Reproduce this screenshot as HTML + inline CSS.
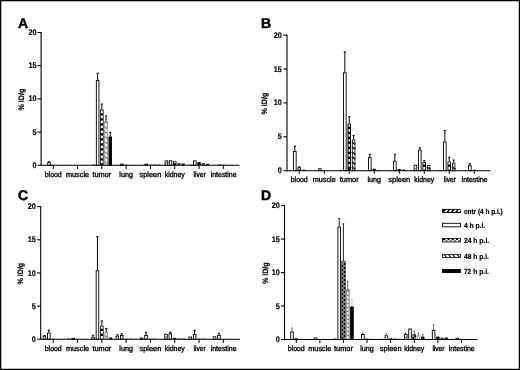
<!DOCTYPE html>
<html lang="en"><head><meta charset="utf-8"><title>Figure</title>
<style>html,body{margin:0;padding:0;background:#fff;}body{width:520px;height:370px;overflow:hidden;}svg{display:block;}</style>
</head><body>
<svg width="520" height="370" viewBox="0 0 520 370" text-rendering="geometricPrecision">
<defs>
<pattern id="p0" width="4.5" height="4.5" patternUnits="userSpaceOnUse"><rect width="4.5" height="4.5" fill="#111"/><path d="M-1 3.2 L3.2 -1 L5.5 -1 L-1 5.5Z M3.2 5.5 L5.5 3.2 L5.5 5.5Z" fill="#fff"/></pattern>
<pattern id="p2" width="4" height="4" patternUnits="userSpaceOnUse"><rect width="4" height="4" fill="#fff"/><rect x="0" y="0" width="2" height="2" fill="#000"/><rect x="2" y="2" width="2" height="2" fill="#000"/></pattern>
<pattern id="p3" width="5" height="5" patternUnits="userSpaceOnUse"><rect width="5" height="5" fill="#fff"/><path d="M-1 -1 L1 -1 L6 4 L6 6 Z M-1 4 L1 6 L-1 6Z" fill="#777"/></pattern>
</defs>
<rect x="0" y="0" width="520" height="370" fill="#fff"/>
<path d="M0 0H520V370H0Z M1.3 1.3V368.7H518.8V1.3Z" fill="#000" fill-rule="evenodd"/>
<g id="chartA">
<text x="18" y="28" font-family='"Liberation Sans", Arial, Helvetica, sans-serif' font-size="14" font-weight="bold" fill="#000" stroke="#000" stroke-width="0.5">A</text>
<rect x="43.10" y="164.97" width="3.50" height="0.33" fill="#222"/>
<path d="M49.05 161.98V161.65M47.95 161.85H50.15" stroke="#000" stroke-width="1.0" fill="none"/>
<rect x="47.75" y="162.43" width="2.60" height="2.87" fill="#fff" stroke="#000" stroke-width="0.9"/>
<rect x="51.50" y="164.77" width="3.50" height="0.53" fill="#222"/>
<rect x="55.70" y="164.97" width="3.50" height="0.33" fill="#222"/>
<rect x="59.90" y="165.10" width="3.50" height="0.20" fill="#222"/>
<rect x="67.40" y="165.10" width="3.50" height="0.20" fill="#222"/>
<rect x="71.60" y="164.97" width="3.50" height="0.33" fill="#222"/>
<rect x="75.80" y="164.97" width="3.50" height="0.33" fill="#222"/>
<rect x="80.00" y="165.10" width="3.50" height="0.20" fill="#222"/>
<rect x="84.20" y="165.10" width="3.50" height="0.20" fill="#222"/>
<rect x="91.70" y="164.64" width="3.50" height="0.66" fill="#222"/>
<path d="M97.65 80.04V73.00M96.55 73.20H98.75" stroke="#000" stroke-width="1.0" fill="none"/>
<rect x="96.35" y="80.49" width="2.60" height="84.81" fill="#fff" stroke="#000" stroke-width="0.9"/>
<path d="M101.85 109.52V103.88M100.75 104.08H102.95" stroke="#000" stroke-width="1.0" fill="none"/>
<rect x="100.10" y="109.52" width="3.50" height="55.78" fill="#000"/>
<path d="M100.85 160.60h2.0v2.60h-2.0ZM100.85 155.60h2.0v2.60h-2.0ZM100.85 150.60h2.0v2.60h-2.0ZM100.85 145.60h2.0v2.60h-2.0ZM100.85 140.60h2.0v2.60h-2.0ZM100.85 135.60h2.0v2.60h-2.0ZM100.85 130.60h2.0v2.60h-2.0ZM100.85 125.60h2.0v2.60h-2.0ZM100.85 120.60h2.0v2.60h-2.0ZM100.85 115.60h2.0v2.60h-2.0ZM100.85 110.60h2.0v2.60h-2.0Z" fill="#fff"/>
<path d="M106.05 120.81V115.77M104.95 115.97H107.15" stroke="#000" stroke-width="1.0" fill="none"/>
<rect x="104.75" y="121.26" width="2.60" height="44.04" fill="#fff" stroke="#8a8a8a" stroke-width="0.9"/>
<path d="M104.30 161.60L107.80 163.80M104.30 156.60L107.80 158.80M104.30 151.60L107.80 153.80M104.30 146.60L107.80 148.80M104.30 141.60L107.80 143.80M104.30 136.60L107.80 138.80M104.30 131.60L107.80 133.80M104.30 126.60L107.80 128.80M104.30 121.60L107.80 123.80" stroke="#8a8a8a" stroke-width="1.3" fill="none"/>
<path d="M110.25 136.48V132.10M109.15 132.30H111.35" stroke="#000" stroke-width="1.0" fill="none"/>
<rect x="108.95" y="136.93" width="2.60" height="28.37" fill="#000" stroke="#000" stroke-width="0.9"/>
<rect x="116.00" y="164.97" width="3.50" height="0.33" fill="#222"/>
<rect x="120.65" y="164.09" width="2.60" height="1.21" fill="#fff" stroke="#000" stroke-width="0.9"/>
<rect x="124.40" y="164.77" width="3.50" height="0.53" fill="#222"/>
<rect x="128.60" y="164.97" width="3.50" height="0.33" fill="#222"/>
<rect x="132.80" y="164.97" width="3.50" height="0.33" fill="#222"/>
<rect x="140.30" y="164.97" width="3.50" height="0.33" fill="#222"/>
<rect x="144.95" y="164.09" width="2.60" height="1.21" fill="#fff" stroke="#000" stroke-width="0.9"/>
<rect x="148.70" y="164.64" width="3.50" height="0.66" fill="#222"/>
<rect x="152.90" y="164.64" width="3.50" height="0.66" fill="#222"/>
<rect x="157.10" y="164.64" width="3.50" height="0.66" fill="#222"/>
<rect x="165.05" y="160.84" width="2.60" height="4.46" fill="#fff" stroke="#111" stroke-width="0.9"/>
<path d="M164.60 164.10L168.10 161.90" stroke="#333" stroke-width="0.8" fill="none"/>
<rect x="169.25" y="160.77" width="2.60" height="4.53" fill="#fff" stroke="#000" stroke-width="0.9"/>
<rect x="173.00" y="161.32" width="3.50" height="3.98" fill="#000"/>
<path d="M173.75 162.12h2.0v1.08h-2.0Z" fill="#fff"/>
<rect x="177.20" y="162.98" width="3.50" height="2.32" rx="0.8" fill="#444"/>
<rect x="181.40" y="163.51" width="3.50" height="1.79" rx="0.8" fill="#111"/>
<rect x="188.90" y="164.64" width="3.50" height="0.66" fill="#222"/>
<rect x="193.55" y="160.84" width="2.60" height="4.46" fill="#fff" stroke="#000" stroke-width="0.9"/>
<rect x="197.30" y="162.11" width="3.50" height="3.19" rx="0.8" fill="#111"/>
<rect x="201.50" y="162.98" width="3.50" height="2.32" rx="0.8" fill="#444"/>
<rect x="205.70" y="163.84" width="3.50" height="1.46" rx="0.8" fill="#111"/>
<rect x="213.20" y="164.97" width="3.50" height="0.33" fill="#222"/>
<rect x="217.40" y="164.50" width="3.50" height="0.80" fill="#222"/>
<rect x="221.60" y="164.64" width="3.50" height="0.66" fill="#222"/>
<rect x="225.80" y="164.97" width="3.50" height="0.33" fill="#222"/>
<rect x="230.00" y="164.97" width="3.50" height="0.33" fill="#222"/>
<path d="M41.10 31.90V165.85" stroke="#000" stroke-width="1.1" fill="none"/>
<path d="M37.50 165.30H239.30" stroke="#000" stroke-width="1.1" fill="none"/>
<path d="M37.50 132.10H41.10" stroke="#000" stroke-width="1.1" fill="none"/>
<path d="M37.50 98.90H41.10" stroke="#000" stroke-width="1.1" fill="none"/>
<path d="M37.50 65.70H41.10" stroke="#000" stroke-width="1.1" fill="none"/>
<path d="M37.50 32.50H41.10" stroke="#000" stroke-width="1.1" fill="none"/>
<text transform="translate(36.60 167.85) scale(0.9 1)" text-anchor="end" font-family='"Liberation Sans", Arial, Helvetica, sans-serif' font-size="8.1" font-weight="bold" fill="#000" stroke="#000" stroke-width="0.18">0</text>
<text transform="translate(36.60 134.65) scale(0.9 1)" text-anchor="end" font-family='"Liberation Sans", Arial, Helvetica, sans-serif' font-size="8.1" font-weight="bold" fill="#000" stroke="#000" stroke-width="0.18">5</text>
<text transform="translate(36.60 101.45) scale(0.9 1)" text-anchor="end" font-family='"Liberation Sans", Arial, Helvetica, sans-serif' font-size="8.1" font-weight="bold" fill="#000" stroke="#000" stroke-width="0.18">10</text>
<text transform="translate(36.60 68.25) scale(0.9 1)" text-anchor="end" font-family='"Liberation Sans", Arial, Helvetica, sans-serif' font-size="8.1" font-weight="bold" fill="#000" stroke="#000" stroke-width="0.18">15</text>
<text transform="translate(36.60 35.05) scale(0.9 1)" text-anchor="end" font-family='"Liberation Sans", Arial, Helvetica, sans-serif' font-size="8.1" font-weight="bold" fill="#000" stroke="#000" stroke-width="0.18">20</text>
<path d="M53.25 165.30V169.05" stroke="#000" stroke-width="1" fill="none"/>
<text x="53.25" y="176.80" text-anchor="middle" textLength="17.01" lengthAdjust="spacingAndGlyphs" font-family='"Liberation Sans", Arial, Helvetica, sans-serif' font-size="7.6" fill="#000" stroke="#000" stroke-width="0.35">blood</text>
<path d="M77.55 165.30V169.05" stroke="#000" stroke-width="1" fill="none"/>
<text x="77.55" y="176.80" text-anchor="middle" textLength="23.08" lengthAdjust="spacingAndGlyphs" font-family='"Liberation Sans", Arial, Helvetica, sans-serif' font-size="7.6" fill="#000" stroke="#000" stroke-width="0.35">muscle</text>
<path d="M101.85 165.30V169.05" stroke="#000" stroke-width="1" fill="none"/>
<text x="101.85" y="176.80" text-anchor="middle" textLength="18.82" lengthAdjust="spacingAndGlyphs" font-family='"Liberation Sans", Arial, Helvetica, sans-serif' font-size="7.6" fill="#000" stroke="#000" stroke-width="0.35">tumor</text>
<path d="M126.15 165.30V169.05" stroke="#000" stroke-width="1" fill="none"/>
<text x="126.15" y="176.80" text-anchor="middle" textLength="13.57" lengthAdjust="spacingAndGlyphs" font-family='"Liberation Sans", Arial, Helvetica, sans-serif' font-size="7.6" fill="#000" stroke="#000" stroke-width="0.35">lung</text>
<path d="M150.45 165.30V169.05" stroke="#000" stroke-width="1" fill="none"/>
<text x="150.45" y="176.80" text-anchor="middle" textLength="21.80" lengthAdjust="spacingAndGlyphs" font-family='"Liberation Sans", Arial, Helvetica, sans-serif' font-size="7.6" fill="#000" stroke="#000" stroke-width="0.35">spleen</text>
<path d="M174.75 165.30V169.05" stroke="#000" stroke-width="1" fill="none"/>
<text x="174.75" y="176.80" text-anchor="middle" textLength="20.10" lengthAdjust="spacingAndGlyphs" font-family='"Liberation Sans", Arial, Helvetica, sans-serif' font-size="7.6" fill="#000" stroke="#000" stroke-width="0.35">kidney</text>
<path d="M199.05 165.30V169.05" stroke="#000" stroke-width="1" fill="none"/>
<text x="199.65" y="176.80" text-anchor="middle" textLength="12.07" lengthAdjust="spacingAndGlyphs" font-family='"Liberation Sans", Arial, Helvetica, sans-serif' font-size="7.6" fill="#000" stroke="#000" stroke-width="0.35">liver</text>
<path d="M223.35 165.30V169.05" stroke="#000" stroke-width="1" fill="none"/>
<text x="223.65" y="176.80" text-anchor="middle" textLength="25.90" lengthAdjust="spacingAndGlyphs" font-family='"Liberation Sans", Arial, Helvetica, sans-serif' font-size="7.6" fill="#000" stroke="#000" stroke-width="0.35">intestine</text>
<text transform="translate(23.80 99.60) rotate(-90) scale(0.9 1)" text-anchor="middle" font-family='"Liberation Sans", Arial, Helvetica, sans-serif' font-size="7.9" font-weight="bold" fill="#000" stroke="#000" stroke-width="0.2">% ID/g</text>
</g>
<g id="chartB">
<text x="261" y="28" font-family='"Liberation Sans", Arial, Helvetica, sans-serif' font-size="14" font-weight="bold" fill="#000" stroke="#000" stroke-width="0.5">B</text>
<rect x="288.70" y="170.50" width="3.50" height="0.20" fill="#222"/>
<path d="M294.85 151.04V146.02M293.75 146.22H295.95" stroke="#000" stroke-width="1.0" fill="none"/>
<rect x="293.55" y="151.49" width="2.60" height="19.21" fill="#fff" stroke="#000" stroke-width="0.9"/>
<path d="M299.25 167.31V166.63M298.15 166.83H300.35" stroke="#000" stroke-width="1.0" fill="none"/>
<rect x="297.50" y="167.31" width="3.50" height="3.39" fill="#000"/>
<path d="M298.30 168.11h1.9v1.29h-1.9Z" fill="#fff"/>
<rect x="301.90" y="169.48" width="3.50" height="1.22" rx="0.8" fill="#444"/>
<rect x="318.55" y="168.78" width="2.60" height="1.92" fill="#fff" stroke="#000" stroke-width="0.9"/>
<rect x="322.50" y="170.36" width="3.50" height="0.34" fill="#222"/>
<rect x="326.90" y="170.50" width="3.50" height="0.20" fill="#222"/>
<rect x="338.70" y="170.02" width="3.50" height="0.68" fill="#222"/>
<path d="M344.85 72.39V51.71M343.75 51.91H345.95" stroke="#000" stroke-width="1.0" fill="none"/>
<rect x="343.55" y="72.84" width="2.60" height="97.86" fill="#fff" stroke="#000" stroke-width="0.9"/>
<path d="M349.25 123.58V116.46M348.15 116.66H350.35" stroke="#000" stroke-width="1.0" fill="none"/>
<rect x="347.50" y="123.58" width="3.50" height="47.12" fill="#000"/>
<path d="M348.55 164.10h1.4v2.60h-1.4ZM348.55 159.10h1.4v2.60h-1.4ZM348.55 154.10h1.4v2.60h-1.4ZM348.55 149.10h1.4v2.60h-1.4ZM348.55 144.10h1.4v2.60h-1.4ZM348.55 139.10h1.4v2.60h-1.4ZM348.55 134.10h1.4v2.60h-1.4ZM348.55 129.10h1.4v2.60h-1.4ZM348.55 124.38h1.4v2.32h-1.4Z" fill="#fff"/>
<path d="M353.65 139.51V135.44M352.55 135.64H354.75" stroke="#000" stroke-width="1.0" fill="none"/>
<rect x="352.35" y="139.96" width="2.60" height="30.74" fill="#fff" stroke="#222" stroke-width="0.9"/>
<path d="M351.90 167.00L355.40 169.20M351.90 162.00L355.40 164.20M351.90 157.00L355.40 159.20M351.90 152.00L355.40 154.20M351.90 147.00L355.40 149.20M351.90 142.00L355.40 144.20" stroke="#222" stroke-width="1.6" fill="none"/>
<rect x="363.70" y="170.36" width="3.50" height="0.34" fill="#222"/>
<path d="M369.85 157.14V154.02M368.75 154.22H370.95" stroke="#000" stroke-width="1.0" fill="none"/>
<rect x="368.55" y="157.59" width="2.60" height="13.11" fill="#fff" stroke="#000" stroke-width="0.9"/>
<rect x="372.50" y="168.67" width="3.50" height="2.03" rx="0.8" fill="#111"/>
<rect x="376.90" y="170.02" width="3.50" height="0.68" fill="#222"/>
<rect x="388.70" y="170.36" width="3.50" height="0.34" fill="#222"/>
<path d="M394.85 160.73V154.02M393.75 154.22H395.95" stroke="#000" stroke-width="1.0" fill="none"/>
<rect x="393.55" y="161.18" width="2.60" height="9.52" fill="#fff" stroke="#000" stroke-width="0.9"/>
<rect x="397.50" y="169.00" width="3.50" height="1.70" rx="0.8" fill="#111"/>
<rect x="401.90" y="169.34" width="3.50" height="1.36" rx="0.8" fill="#444"/>
<rect x="414.15" y="165.18" width="2.60" height="5.52" fill="#fff" stroke="#111" stroke-width="0.9"/>
<path d="M413.70 169.50L417.20 167.30" stroke="#333" stroke-width="0.8" fill="none"/>
<path d="M419.85 149.68V147.65M418.75 147.85H420.95" stroke="#000" stroke-width="1.0" fill="none"/>
<rect x="418.55" y="150.13" width="2.60" height="20.57" fill="#fff" stroke="#000" stroke-width="0.9"/>
<path d="M424.25 162.02V160.53M423.15 160.73H425.35" stroke="#000" stroke-width="1.0" fill="none"/>
<rect x="422.50" y="162.02" width="3.50" height="8.68" fill="#000"/>
<path d="M423.30 166.80h1.9v2.60h-1.9ZM423.30 162.82h1.9v1.58h-1.9Z" fill="#fff"/>
<rect x="427.35" y="165.39" width="2.60" height="5.31" fill="#fff" stroke="#222" stroke-width="0.9"/>
<path d="M426.90 167.00L430.40 169.20" stroke="#222" stroke-width="1.6" fill="none"/>
<rect x="438.70" y="170.02" width="3.50" height="0.68" fill="#222"/>
<path d="M444.85 141.55V130.29M443.75 130.49H445.95" stroke="#000" stroke-width="1.0" fill="none"/>
<rect x="443.55" y="142.00" width="2.60" height="28.70" fill="#fff" stroke="#000" stroke-width="0.9"/>
<path d="M449.25 161.48V157.14M448.15 157.34H450.35" stroke="#000" stroke-width="1.0" fill="none"/>
<rect x="447.50" y="161.48" width="3.50" height="9.22" fill="#000"/>
<path d="M448.30 166.80h1.9v2.60h-1.9ZM448.30 162.28h1.9v2.12h-1.9Z" fill="#fff"/>
<path d="M453.65 162.70V159.85M452.55 160.05H454.75" stroke="#000" stroke-width="1.0" fill="none"/>
<rect x="452.35" y="163.15" width="2.60" height="7.55" fill="#fff" stroke="#222" stroke-width="0.9"/>
<path d="M451.90 167.00L455.40 169.20" stroke="#222" stroke-width="1.6" fill="none"/>
<rect x="463.70" y="170.50" width="3.50" height="0.20" fill="#222"/>
<path d="M469.85 165.28V163.51M468.75 163.71H470.95" stroke="#000" stroke-width="1.0" fill="none"/>
<rect x="468.55" y="165.73" width="2.60" height="4.97" fill="#fff" stroke="#000" stroke-width="0.9"/>
<rect x="472.50" y="169.68" width="3.50" height="1.02" fill="#222"/>
<rect x="476.90" y="170.50" width="3.50" height="0.20" fill="#222"/>
<path d="M287.00 34.50V171.25" stroke="#000" stroke-width="1.1" fill="none"/>
<path d="M283.40 170.70H490.50" stroke="#000" stroke-width="1.1" fill="none"/>
<path d="M283.40 136.80H287.00" stroke="#000" stroke-width="1.1" fill="none"/>
<path d="M283.40 102.90H287.00" stroke="#000" stroke-width="1.1" fill="none"/>
<path d="M283.40 69.00H287.00" stroke="#000" stroke-width="1.1" fill="none"/>
<path d="M283.40 35.10H287.00" stroke="#000" stroke-width="1.1" fill="none"/>
<text transform="translate(281.80 173.25) scale(0.9 1)" text-anchor="end" font-family='"Liberation Sans", Arial, Helvetica, sans-serif' font-size="8.1" font-weight="bold" fill="#000" stroke="#000" stroke-width="0.18">0</text>
<text transform="translate(281.80 139.35) scale(0.9 1)" text-anchor="end" font-family='"Liberation Sans", Arial, Helvetica, sans-serif' font-size="8.1" font-weight="bold" fill="#000" stroke="#000" stroke-width="0.18">5</text>
<text transform="translate(281.80 105.45) scale(0.9 1)" text-anchor="end" font-family='"Liberation Sans", Arial, Helvetica, sans-serif' font-size="8.1" font-weight="bold" fill="#000" stroke="#000" stroke-width="0.18">10</text>
<text transform="translate(281.80 71.55) scale(0.9 1)" text-anchor="end" font-family='"Liberation Sans", Arial, Helvetica, sans-serif' font-size="8.1" font-weight="bold" fill="#000" stroke="#000" stroke-width="0.18">15</text>
<text transform="translate(281.80 37.65) scale(0.9 1)" text-anchor="end" font-family='"Liberation Sans", Arial, Helvetica, sans-serif' font-size="8.1" font-weight="bold" fill="#000" stroke="#000" stroke-width="0.18">20</text>
<path d="M299.25 170.70V173.80" stroke="#000" stroke-width="1" fill="none"/>
<text x="299.25" y="181.60" text-anchor="middle" textLength="17.01" lengthAdjust="spacingAndGlyphs" font-family='"Liberation Sans", Arial, Helvetica, sans-serif' font-size="7.6" fill="#000" stroke="#000" stroke-width="0.35">blood</text>
<path d="M324.25 170.70V173.80" stroke="#000" stroke-width="1" fill="none"/>
<text x="324.25" y="181.60" text-anchor="middle" textLength="23.08" lengthAdjust="spacingAndGlyphs" font-family='"Liberation Sans", Arial, Helvetica, sans-serif' font-size="7.6" fill="#000" stroke="#000" stroke-width="0.35">muscle</text>
<path d="M349.25 170.70V173.80" stroke="#000" stroke-width="1" fill="none"/>
<text x="349.25" y="181.60" text-anchor="middle" textLength="18.82" lengthAdjust="spacingAndGlyphs" font-family='"Liberation Sans", Arial, Helvetica, sans-serif' font-size="7.6" fill="#000" stroke="#000" stroke-width="0.35">tumor</text>
<path d="M374.25 170.70V173.80" stroke="#000" stroke-width="1" fill="none"/>
<text x="374.25" y="181.60" text-anchor="middle" textLength="13.57" lengthAdjust="spacingAndGlyphs" font-family='"Liberation Sans", Arial, Helvetica, sans-serif' font-size="7.6" fill="#000" stroke="#000" stroke-width="0.35">lung</text>
<path d="M399.25 170.70V173.80" stroke="#000" stroke-width="1" fill="none"/>
<text x="399.25" y="181.60" text-anchor="middle" textLength="21.80" lengthAdjust="spacingAndGlyphs" font-family='"Liberation Sans", Arial, Helvetica, sans-serif' font-size="7.6" fill="#000" stroke="#000" stroke-width="0.35">spleen</text>
<path d="M424.25 170.70V173.80" stroke="#000" stroke-width="1" fill="none"/>
<text x="424.25" y="181.60" text-anchor="middle" textLength="20.10" lengthAdjust="spacingAndGlyphs" font-family='"Liberation Sans", Arial, Helvetica, sans-serif' font-size="7.6" fill="#000" stroke="#000" stroke-width="0.35">kidney</text>
<path d="M449.25 170.70V173.80" stroke="#000" stroke-width="1" fill="none"/>
<text x="449.85" y="181.60" text-anchor="middle" textLength="12.07" lengthAdjust="spacingAndGlyphs" font-family='"Liberation Sans", Arial, Helvetica, sans-serif' font-size="7.6" fill="#000" stroke="#000" stroke-width="0.35">liver</text>
<path d="M474.25 170.70V173.80" stroke="#000" stroke-width="1" fill="none"/>
<text x="474.55" y="181.60" text-anchor="middle" textLength="25.90" lengthAdjust="spacingAndGlyphs" font-family='"Liberation Sans", Arial, Helvetica, sans-serif' font-size="7.6" fill="#000" stroke="#000" stroke-width="0.35">intestine</text>
<text transform="translate(267.30 103.60) rotate(-90) scale(0.9 1)" text-anchor="middle" font-family='"Liberation Sans", Arial, Helvetica, sans-serif' font-size="7.9" font-weight="bold" fill="#000" stroke="#000" stroke-width="0.2">% ID/g</text>
</g>
<g id="chartC">
<text x="18" y="200" font-family='"Liberation Sans", Arial, Helvetica, sans-serif' font-size="14" font-weight="bold" fill="#000" stroke="#000" stroke-width="0.5">C</text>
<path d="M44.45 335.78V335.32M43.35 335.52H45.55" stroke="#000" stroke-width="1.0" fill="none"/>
<rect x="43.15" y="336.23" width="2.60" height="3.07" fill="#fff" stroke="#111" stroke-width="0.9"/>
<path d="M48.85 332.53V330.01M47.75 330.21H49.95" stroke="#000" stroke-width="1.0" fill="none"/>
<rect x="47.55" y="332.98" width="2.60" height="6.32" fill="#fff" stroke="#000" stroke-width="0.9"/>
<rect x="51.50" y="338.77" width="3.50" height="0.53" fill="#222"/>
<rect x="55.90" y="338.97" width="3.50" height="0.33" fill="#222"/>
<rect x="60.30" y="338.97" width="3.50" height="0.33" fill="#222"/>
<rect x="67.00" y="338.64" width="3.50" height="0.66" fill="#222"/>
<rect x="71.85" y="338.42" width="2.60" height="0.88" fill="#fff" stroke="#000" stroke-width="0.9"/>
<rect x="75.80" y="338.97" width="3.50" height="0.33" fill="#222"/>
<rect x="80.20" y="339.10" width="3.50" height="0.20" fill="#222"/>
<rect x="84.60" y="339.10" width="3.50" height="0.20" fill="#222"/>
<path d="M93.05 336.78V334.99M91.95 335.19H94.15" stroke="#000" stroke-width="1.0" fill="none"/>
<rect x="91.75" y="337.23" width="2.60" height="2.07" fill="#fff" stroke="#111" stroke-width="0.9"/>
<path d="M97.45 270.30V236.46M96.35 236.66H98.55" stroke="#000" stroke-width="1.0" fill="none"/>
<rect x="96.15" y="270.75" width="2.60" height="68.55" fill="#fff" stroke="#000" stroke-width="0.9"/>
<path d="M101.85 325.70V320.72M100.75 320.92H102.95" stroke="#000" stroke-width="1.0" fill="none"/>
<rect x="100.10" y="325.70" width="3.50" height="13.60" fill="#000"/>
<path d="M100.75 336.10h2.2v2.60h-2.2ZM100.75 331.10h2.2v2.60h-2.2ZM100.75 326.50h2.2v2.20h-2.2Z" fill="#fff"/>
<path d="M106.25 332.00V328.22M105.15 328.42H107.35" stroke="#000" stroke-width="1.0" fill="none"/>
<rect x="104.95" y="332.45" width="2.60" height="6.85" fill="#fff" stroke="#8a8a8a" stroke-width="0.9"/>
<path d="M104.50 335.60L108.00 337.80" stroke="#8a8a8a" stroke-width="1.3" fill="none"/>
<rect x="108.90" y="337.51" width="3.50" height="1.79" rx="0.8" fill="#111"/>
<path d="M117.35 335.78V334.66M116.25 334.86H118.45" stroke="#000" stroke-width="1.0" fill="none"/>
<rect x="116.05" y="336.23" width="2.60" height="3.07" fill="#fff" stroke="#111" stroke-width="0.9"/>
<path d="M121.75 334.99V333.66M120.65 333.86H122.85" stroke="#000" stroke-width="1.0" fill="none"/>
<rect x="120.45" y="335.44" width="2.60" height="3.86" fill="#fff" stroke="#000" stroke-width="0.9"/>
<rect x="124.40" y="338.77" width="3.50" height="0.53" fill="#222"/>
<rect x="128.80" y="338.77" width="3.50" height="0.53" fill="#222"/>
<rect x="133.20" y="338.97" width="3.50" height="0.33" fill="#222"/>
<rect x="140.35" y="338.09" width="2.60" height="1.21" fill="#fff" stroke="#111" stroke-width="0.9"/>
<path d="M146.05 334.99V332.00M144.95 332.20H147.15" stroke="#000" stroke-width="1.0" fill="none"/>
<rect x="144.75" y="335.44" width="2.60" height="3.86" fill="#fff" stroke="#000" stroke-width="0.9"/>
<rect x="148.70" y="338.77" width="3.50" height="0.53" fill="#222"/>
<rect x="153.10" y="338.77" width="3.50" height="0.53" fill="#222"/>
<rect x="157.50" y="338.97" width="3.50" height="0.33" fill="#222"/>
<rect x="164.65" y="334.24" width="2.60" height="5.06" fill="#fff" stroke="#111" stroke-width="0.9"/>
<path d="M164.20 338.10L167.70 335.90" stroke="#333" stroke-width="0.8" fill="none"/>
<path d="M170.35 333.33V332.00M169.25 332.20H171.45" stroke="#000" stroke-width="1.0" fill="none"/>
<rect x="169.05" y="333.78" width="2.60" height="5.52" fill="#fff" stroke="#000" stroke-width="0.9"/>
<rect x="173.00" y="337.64" width="3.50" height="1.66" rx="0.8" fill="#111"/>
<rect x="177.40" y="338.64" width="3.50" height="0.66" fill="#222"/>
<rect x="181.80" y="338.64" width="3.50" height="0.66" fill="#222"/>
<rect x="188.95" y="336.96" width="2.60" height="2.34" fill="#fff" stroke="#111" stroke-width="0.9"/>
<path d="M194.65 333.99V330.01M193.55 330.21H195.75" stroke="#000" stroke-width="1.0" fill="none"/>
<rect x="193.35" y="334.44" width="2.60" height="4.86" fill="#fff" stroke="#000" stroke-width="0.9"/>
<rect x="197.30" y="338.77" width="3.50" height="0.53" fill="#222"/>
<rect x="201.70" y="338.77" width="3.50" height="0.53" fill="#222"/>
<rect x="206.10" y="338.97" width="3.50" height="0.33" fill="#222"/>
<rect x="213.25" y="336.76" width="2.60" height="2.54" fill="#fff" stroke="#111" stroke-width="0.9"/>
<path d="M218.95 334.99V333.00M217.85 333.20H220.05" stroke="#000" stroke-width="1.0" fill="none"/>
<rect x="217.65" y="335.44" width="2.60" height="3.86" fill="#fff" stroke="#000" stroke-width="0.9"/>
<rect x="221.60" y="338.97" width="3.50" height="0.33" fill="#222"/>
<rect x="226.00" y="338.97" width="3.50" height="0.33" fill="#222"/>
<rect x="230.40" y="339.10" width="3.50" height="0.20" fill="#222"/>
<path d="M40.70 206.00V339.85" stroke="#000" stroke-width="1.1" fill="none"/>
<path d="M37.10 339.30H240.00" stroke="#000" stroke-width="1.1" fill="none"/>
<path d="M37.10 306.12H40.70" stroke="#000" stroke-width="1.1" fill="none"/>
<path d="M37.10 272.95H40.70" stroke="#000" stroke-width="1.1" fill="none"/>
<path d="M37.10 239.78H40.70" stroke="#000" stroke-width="1.1" fill="none"/>
<path d="M37.10 206.60H40.70" stroke="#000" stroke-width="1.1" fill="none"/>
<text transform="translate(35.90 341.85) scale(0.9 1)" text-anchor="end" font-family='"Liberation Sans", Arial, Helvetica, sans-serif' font-size="8.1" font-weight="bold" fill="#000" stroke="#000" stroke-width="0.18">0</text>
<text transform="translate(35.90 308.68) scale(0.9 1)" text-anchor="end" font-family='"Liberation Sans", Arial, Helvetica, sans-serif' font-size="8.1" font-weight="bold" fill="#000" stroke="#000" stroke-width="0.18">5</text>
<text transform="translate(35.90 275.50) scale(0.9 1)" text-anchor="end" font-family='"Liberation Sans", Arial, Helvetica, sans-serif' font-size="8.1" font-weight="bold" fill="#000" stroke="#000" stroke-width="0.18">10</text>
<text transform="translate(35.90 242.33) scale(0.9 1)" text-anchor="end" font-family='"Liberation Sans", Arial, Helvetica, sans-serif' font-size="8.1" font-weight="bold" fill="#000" stroke="#000" stroke-width="0.18">15</text>
<text transform="translate(35.90 209.15) scale(0.9 1)" text-anchor="end" font-family='"Liberation Sans", Arial, Helvetica, sans-serif' font-size="8.1" font-weight="bold" fill="#000" stroke="#000" stroke-width="0.18">20</text>
<path d="M53.25 339.30V343.05" stroke="#000" stroke-width="1" fill="none"/>
<text x="53.25" y="350.90" text-anchor="middle" textLength="17.01" lengthAdjust="spacingAndGlyphs" font-family='"Liberation Sans", Arial, Helvetica, sans-serif' font-size="7.6" fill="#000" stroke="#000" stroke-width="0.35">blood</text>
<path d="M77.55 339.30V343.05" stroke="#000" stroke-width="1" fill="none"/>
<text x="77.55" y="350.90" text-anchor="middle" textLength="23.08" lengthAdjust="spacingAndGlyphs" font-family='"Liberation Sans", Arial, Helvetica, sans-serif' font-size="7.6" fill="#000" stroke="#000" stroke-width="0.35">muscle</text>
<path d="M101.85 339.30V343.05" stroke="#000" stroke-width="1" fill="none"/>
<text x="101.85" y="350.90" text-anchor="middle" textLength="18.82" lengthAdjust="spacingAndGlyphs" font-family='"Liberation Sans", Arial, Helvetica, sans-serif' font-size="7.6" fill="#000" stroke="#000" stroke-width="0.35">tumor</text>
<path d="M126.15 339.30V343.05" stroke="#000" stroke-width="1" fill="none"/>
<text x="126.15" y="350.90" text-anchor="middle" textLength="13.57" lengthAdjust="spacingAndGlyphs" font-family='"Liberation Sans", Arial, Helvetica, sans-serif' font-size="7.6" fill="#000" stroke="#000" stroke-width="0.35">lung</text>
<path d="M150.45 339.30V343.05" stroke="#000" stroke-width="1" fill="none"/>
<text x="150.45" y="350.90" text-anchor="middle" textLength="21.80" lengthAdjust="spacingAndGlyphs" font-family='"Liberation Sans", Arial, Helvetica, sans-serif' font-size="7.6" fill="#000" stroke="#000" stroke-width="0.35">spleen</text>
<path d="M174.75 339.30V343.05" stroke="#000" stroke-width="1" fill="none"/>
<text x="174.75" y="350.90" text-anchor="middle" textLength="20.10" lengthAdjust="spacingAndGlyphs" font-family='"Liberation Sans", Arial, Helvetica, sans-serif' font-size="7.6" fill="#000" stroke="#000" stroke-width="0.35">kidney</text>
<path d="M199.05 339.30V343.05" stroke="#000" stroke-width="1" fill="none"/>
<text x="199.65" y="350.90" text-anchor="middle" textLength="12.07" lengthAdjust="spacingAndGlyphs" font-family='"Liberation Sans", Arial, Helvetica, sans-serif' font-size="7.6" fill="#000" stroke="#000" stroke-width="0.35">liver</text>
<path d="M223.35 339.30V343.05" stroke="#000" stroke-width="1" fill="none"/>
<text x="223.65" y="350.90" text-anchor="middle" textLength="25.90" lengthAdjust="spacingAndGlyphs" font-family='"Liberation Sans", Arial, Helvetica, sans-serif' font-size="7.6" fill="#000" stroke="#000" stroke-width="0.35">intestine</text>
<text transform="translate(23.40 273.65) rotate(-90) scale(0.9 1)" text-anchor="middle" font-family='"Liberation Sans", Arial, Helvetica, sans-serif' font-size="7.9" font-weight="bold" fill="#000" stroke="#000" stroke-width="0.2">% ID/g</text>
</g>
<g id="chartD">
<text x="261" y="200" font-family='"Liberation Sans", Arial, Helvetica, sans-serif' font-size="14" font-weight="bold" fill="#000" stroke="#000" stroke-width="0.5">D</text>
<rect x="286.00" y="339.22" width="3.50" height="0.34" fill="#222"/>
<path d="M292.00 331.58V327.82M291.20 328.02H292.80" stroke="#333" stroke-width="0.7" fill="none"/>
<rect x="290.70" y="332.03" width="2.60" height="7.52" fill="#fff" stroke="#000" stroke-width="0.9"/>
<rect x="294.50" y="338.21" width="3.50" height="1.34" rx="0.8" fill="#111"/>
<rect x="298.75" y="338.88" width="3.50" height="0.67" fill="#222"/>
<rect x="303.00" y="339.22" width="3.50" height="0.34" fill="#222"/>
<rect x="309.60" y="339.35" width="3.50" height="0.20" fill="#222"/>
<rect x="314.30" y="337.99" width="2.60" height="1.56" fill="#fff" stroke="#000" stroke-width="0.9"/>
<rect x="318.10" y="339.01" width="3.50" height="0.54" fill="#222"/>
<rect x="322.35" y="339.22" width="3.50" height="0.34" fill="#222"/>
<rect x="326.60" y="339.35" width="3.50" height="0.20" fill="#222"/>
<rect x="333.20" y="338.55" width="3.50" height="1.00" fill="#222"/>
<path d="M339.20 226.66V218.28M338.40 218.48H340.00" stroke="#111" stroke-width="0.9" fill="none"/>
<rect x="337.90" y="227.10" width="2.60" height="112.45" fill="#fff" stroke="#000" stroke-width="0.9"/>
<path d="M343.45 260.89V223.64M342.65 223.84H344.25" stroke="#111" stroke-width="0.9" fill="none"/>
<rect x="341.25" y="260.89" width="4.40" height="78.66" fill="#8a8a8a"/>
<path d="M341.55 339.55V261.19H345.35V339.55" stroke="#333" stroke-width="0.6" fill="none"/>
<path d="M341.75 337.05h1.4v2h-1.4ZM343.75 335.05h1.4v2h-1.4ZM341.75 333.05h1.4v2h-1.4ZM343.75 331.05h1.4v2h-1.4ZM341.75 329.05h1.4v2h-1.4ZM343.75 327.05h1.4v2h-1.4ZM341.75 325.05h1.4v2h-1.4ZM343.75 323.05h1.4v2h-1.4ZM341.75 321.05h1.4v2h-1.4ZM343.75 319.05h1.4v2h-1.4ZM341.75 317.05h1.4v2h-1.4ZM343.75 315.05h1.4v2h-1.4ZM341.75 313.05h1.4v2h-1.4ZM343.75 311.05h1.4v2h-1.4ZM341.75 309.05h1.4v2h-1.4ZM343.75 307.05h1.4v2h-1.4ZM341.75 305.05h1.4v2h-1.4ZM343.75 303.05h1.4v2h-1.4ZM341.75 301.05h1.4v2h-1.4ZM343.75 299.05h1.4v2h-1.4ZM341.75 297.05h1.4v2h-1.4ZM343.75 295.05h1.4v2h-1.4ZM341.75 293.05h1.4v2h-1.4ZM343.75 291.05h1.4v2h-1.4ZM341.75 289.05h1.4v2h-1.4ZM343.75 287.05h1.4v2h-1.4ZM341.75 285.05h1.4v2h-1.4ZM343.75 283.05h1.4v2h-1.4ZM341.75 281.05h1.4v2h-1.4ZM343.75 279.05h1.4v2h-1.4ZM341.75 277.05h1.4v2h-1.4ZM343.75 275.05h1.4v2h-1.4ZM341.75 273.05h1.4v2h-1.4ZM343.75 271.05h1.4v2h-1.4ZM341.75 269.05h1.4v2h-1.4ZM343.75 267.05h1.4v2h-1.4ZM341.75 265.05h1.4v2h-1.4ZM343.75 263.05h1.4v2h-1.4Z" fill="#000"/>
<path d="M347.70 289.03V281.53M346.90 281.73H348.50" stroke="#333" stroke-width="0.7" fill="none"/>
<rect x="345.70" y="289.03" width="4.00" height="50.52" fill="#8a8a8a"/>
<path d="M346.80 336.35h1.8v2.4h-1.8ZM346.80 332.35h1.8v2.4h-1.8ZM346.80 328.35h1.8v2.4h-1.8ZM346.80 324.35h1.8v2.4h-1.8ZM346.80 320.35h1.8v2.4h-1.8ZM346.80 316.35h1.8v2.4h-1.8ZM346.80 312.35h1.8v2.4h-1.8ZM346.80 308.35h1.8v2.4h-1.8ZM346.80 304.35h1.8v2.4h-1.8ZM346.80 300.35h1.8v2.4h-1.8ZM346.80 296.35h1.8v2.4h-1.8ZM346.80 292.35h1.8v2.4h-1.8Z" fill="#fff"/>
<path d="M351.95 306.52V299.08M351.15 299.28H352.75" stroke="#aaa" stroke-width="0.7" fill="none"/>
<rect x="350.65" y="306.97" width="2.60" height="32.58" fill="#000" stroke="#000" stroke-width="0.9"/>
<rect x="356.80" y="339.01" width="3.50" height="0.54" fill="#222"/>
<path d="M362.80 334.06V332.85M362.00 333.05H363.60" stroke="#333" stroke-width="0.7" fill="none"/>
<rect x="361.50" y="334.51" width="2.60" height="5.04" fill="#fff" stroke="#000" stroke-width="0.9"/>
<rect x="365.30" y="338.55" width="3.50" height="1.00" fill="#222"/>
<rect x="369.55" y="338.88" width="3.50" height="0.67" fill="#222"/>
<rect x="373.80" y="339.01" width="3.50" height="0.54" fill="#222"/>
<rect x="380.40" y="338.88" width="3.50" height="0.67" fill="#222"/>
<path d="M386.40 335.33V333.32M385.60 333.52H387.20" stroke="#333" stroke-width="0.7" fill="none"/>
<rect x="385.10" y="335.78" width="2.60" height="3.77" fill="#fff" stroke="#000" stroke-width="0.9"/>
<rect x="388.90" y="338.21" width="3.50" height="1.34" rx="0.8" fill="#111"/>
<rect x="393.15" y="338.55" width="3.50" height="1.00" fill="#222"/>
<rect x="397.40" y="338.88" width="3.50" height="0.67" fill="#222"/>
<path d="M405.75 334.06V332.85M404.95 333.05H406.55" stroke="#333" stroke-width="0.7" fill="none"/>
<rect x="404.45" y="334.51" width="2.60" height="5.04" fill="#fff" stroke="#111" stroke-width="0.9"/>
<path d="M404.00 338.35L407.50 336.15" stroke="#333" stroke-width="0.8" fill="none"/>
<rect x="408.70" y="329.01" width="2.60" height="10.54" fill="#fff" stroke="#000" stroke-width="0.9"/>
<path d="M414.25 334.06V330.84M413.45 331.04H415.05" stroke="#333" stroke-width="0.7" fill="none"/>
<rect x="412.50" y="334.06" width="3.50" height="5.49" fill="#8a8a8a"/>
<path d="M412.80 339.55V334.36H415.70V339.55" stroke="#333" stroke-width="0.6" fill="none"/>
<path d="M412.55 337.05h1.4v2h-1.4ZM414.55 335.05h1.4v2h-1.4Z" fill="#000"/>
<path d="M418.50 335.33V332.85M417.70 333.05H419.30" stroke="#333" stroke-width="0.7" fill="none"/>
<rect x="416.75" y="335.33" width="3.50" height="4.22" fill="#8a8a8a"/>
<path d="M417.60 336.35h1.8v2.4h-1.8Z" fill="#fff"/>
<path d="M422.75 336.54V334.06M421.95 334.26H423.55" stroke="#333" stroke-width="0.7" fill="none"/>
<rect x="421.00" y="336.54" width="3.50" height="3.02" rx="0.8" fill="#111"/>
<rect x="427.60" y="338.88" width="3.50" height="0.67" fill="#222"/>
<path d="M433.60 329.84V324.54M432.80 324.74H434.40" stroke="#333" stroke-width="0.7" fill="none"/>
<rect x="432.30" y="330.29" width="2.60" height="9.27" fill="#fff" stroke="#000" stroke-width="0.9"/>
<rect x="436.10" y="336.54" width="3.50" height="3.02" rx="0.8" fill="#111"/>
<rect x="440.35" y="337.54" width="3.50" height="2.01" rx="0.8" fill="#444"/>
<rect x="444.60" y="337.54" width="3.50" height="2.01" rx="0.8" fill="#111"/>
<rect x="451.20" y="338.88" width="3.50" height="0.67" fill="#222"/>
<rect x="455.90" y="338.32" width="2.60" height="1.23" fill="#fff" stroke="#000" stroke-width="0.9"/>
<rect x="459.70" y="338.88" width="3.50" height="0.67" fill="#222"/>
<rect x="463.95" y="339.22" width="3.50" height="0.34" fill="#222"/>
<rect x="468.20" y="339.35" width="3.50" height="0.20" fill="#222"/>
<path d="M284.50 204.95V340.10" stroke="#000" stroke-width="1.1" fill="none"/>
<path d="M280.90 339.55H477.50" stroke="#000" stroke-width="1.1" fill="none"/>
<path d="M280.90 306.05H284.50" stroke="#000" stroke-width="1.1" fill="none"/>
<path d="M280.90 272.55H284.50" stroke="#000" stroke-width="1.1" fill="none"/>
<path d="M280.90 239.05H284.50" stroke="#000" stroke-width="1.1" fill="none"/>
<path d="M280.90 205.55H284.50" stroke="#000" stroke-width="1.1" fill="none"/>
<text transform="translate(279.90 342.10) scale(0.9 1)" text-anchor="end" font-family='"Liberation Sans", Arial, Helvetica, sans-serif' font-size="8.1" font-weight="bold" fill="#000" stroke="#000" stroke-width="0.18">0</text>
<text transform="translate(279.90 308.60) scale(0.9 1)" text-anchor="end" font-family='"Liberation Sans", Arial, Helvetica, sans-serif' font-size="8.1" font-weight="bold" fill="#000" stroke="#000" stroke-width="0.18">5</text>
<text transform="translate(279.90 275.10) scale(0.9 1)" text-anchor="end" font-family='"Liberation Sans", Arial, Helvetica, sans-serif' font-size="8.1" font-weight="bold" fill="#000" stroke="#000" stroke-width="0.18">10</text>
<text transform="translate(279.90 241.60) scale(0.9 1)" text-anchor="end" font-family='"Liberation Sans", Arial, Helvetica, sans-serif' font-size="8.1" font-weight="bold" fill="#000" stroke="#000" stroke-width="0.18">15</text>
<text transform="translate(279.90 208.10) scale(0.9 1)" text-anchor="end" font-family='"Liberation Sans", Arial, Helvetica, sans-serif' font-size="8.1" font-weight="bold" fill="#000" stroke="#000" stroke-width="0.18">20</text>
<path d="M296.25 339.55V343.05" stroke="#000" stroke-width="1" fill="none"/>
<text x="296.25" y="351.15" text-anchor="middle" textLength="17.01" lengthAdjust="spacingAndGlyphs" font-family='"Liberation Sans", Arial, Helvetica, sans-serif' font-size="7.6" fill="#000" stroke="#000" stroke-width="0.35">blood</text>
<path d="M319.85 339.55V343.05" stroke="#000" stroke-width="1" fill="none"/>
<text x="319.85" y="351.15" text-anchor="middle" textLength="23.08" lengthAdjust="spacingAndGlyphs" font-family='"Liberation Sans", Arial, Helvetica, sans-serif' font-size="7.6" fill="#000" stroke="#000" stroke-width="0.35">muscle</text>
<path d="M343.45 339.55V343.05" stroke="#000" stroke-width="1" fill="none"/>
<text x="343.45" y="351.15" text-anchor="middle" textLength="18.82" lengthAdjust="spacingAndGlyphs" font-family='"Liberation Sans", Arial, Helvetica, sans-serif' font-size="7.6" fill="#000" stroke="#000" stroke-width="0.35">tumor</text>
<path d="M367.05 339.55V343.05" stroke="#000" stroke-width="1" fill="none"/>
<text x="367.05" y="351.15" text-anchor="middle" textLength="13.57" lengthAdjust="spacingAndGlyphs" font-family='"Liberation Sans", Arial, Helvetica, sans-serif' font-size="7.6" fill="#000" stroke="#000" stroke-width="0.35">lung</text>
<path d="M390.65 339.55V343.05" stroke="#000" stroke-width="1" fill="none"/>
<text x="390.65" y="351.15" text-anchor="middle" textLength="21.80" lengthAdjust="spacingAndGlyphs" font-family='"Liberation Sans", Arial, Helvetica, sans-serif' font-size="7.6" fill="#000" stroke="#000" stroke-width="0.35">spleen</text>
<path d="M414.25 339.55V343.05" stroke="#000" stroke-width="1" fill="none"/>
<text x="414.25" y="351.15" text-anchor="middle" textLength="20.10" lengthAdjust="spacingAndGlyphs" font-family='"Liberation Sans", Arial, Helvetica, sans-serif' font-size="7.6" fill="#000" stroke="#000" stroke-width="0.35">kidney</text>
<path d="M437.85 339.55V343.05" stroke="#000" stroke-width="1" fill="none"/>
<text x="438.45" y="351.15" text-anchor="middle" textLength="12.07" lengthAdjust="spacingAndGlyphs" font-family='"Liberation Sans", Arial, Helvetica, sans-serif' font-size="7.6" fill="#000" stroke="#000" stroke-width="0.35">liver</text>
<path d="M461.45 339.55V343.05" stroke="#000" stroke-width="1" fill="none"/>
<text x="461.75" y="351.15" text-anchor="middle" textLength="25.90" lengthAdjust="spacingAndGlyphs" font-family='"Liberation Sans", Arial, Helvetica, sans-serif' font-size="7.6" fill="#000" stroke="#000" stroke-width="0.35">intestine</text>
<text transform="translate(267.70 273.25) rotate(-90) scale(0.9 1)" text-anchor="middle" font-family='"Liberation Sans", Arial, Helvetica, sans-serif' font-size="7.9" font-weight="bold" fill="#000" stroke="#000" stroke-width="0.2">% ID/g</text>
</g>
<g id="legend">
<rect x="442.00" y="208.90" width="18.90" height="4.00" fill="#000"/>
<path d="M444.25 212.10h2.4l1.7 -2.40h-2.4ZM448.50 212.10h2.4l1.7 -2.40h-2.4ZM452.75 212.10h2.4l1.7 -2.40h-2.4ZM457.00 212.10h2.4l1.7 -2.40h-2.4Z" fill="#fff"/>
<text x="463.9" y="213.65" textLength="38.75" lengthAdjust="spacingAndGlyphs" font-family='"Liberation Sans", Arial, Helvetica, sans-serif' font-size="7.4" font-weight="bold" fill="#000" stroke="#000" stroke-width="0.2">cntr (4 h p.i.)</text>
<rect x="442.45" y="223.30" width="18.00" height="3.50" fill="#fff" stroke="#000" stroke-width="0.9"/>
<text x="463.9" y="227.80" textLength="21.3" lengthAdjust="spacingAndGlyphs" font-family='"Liberation Sans", Arial, Helvetica, sans-serif' font-size="7.4" font-weight="bold" fill="#000" stroke="#000" stroke-width="0.2">4 h p.i.</text>
<rect x="442.00" y="238.05" width="18.90" height="4.30" fill="#000"/>
<rect x="442.80" y="240.20" width="17.30" height="1.35" fill="#777"/>
<path d="M445.40 238.85h2.1v1.35h-2.1ZM443.30 240.20h2.1v1.35h-2.1ZM449.60 238.85h2.1v1.35h-2.1ZM447.50 240.20h2.1v1.35h-2.1ZM453.80 238.85h2.1v1.35h-2.1ZM451.70 240.20h2.1v1.35h-2.1ZM458.00 238.85h2.1v1.35h-2.1ZM455.90 240.20h2.1v1.35h-2.1Z" fill="#fff"/>
<text x="463.9" y="242.95" textLength="25.3" lengthAdjust="spacingAndGlyphs" font-family='"Liberation Sans", Arial, Helvetica, sans-serif' font-size="7.4" font-weight="bold" fill="#000" stroke="#000" stroke-width="0.2">24 h p.i.</text>
<rect x="442.00" y="253.95" width="18.90" height="3.90" fill="#000"/>
<rect x="442.80" y="254.75" width="17.30" height="2.30" fill="#fff"/>
<path d="M443.60 254.75h1.6l1.8 2.30h-1.6ZM447.90 254.75h1.6l1.8 2.30h-1.6ZM452.20 254.75h1.6l1.8 2.30h-1.6ZM456.50 254.75h1.6l1.8 2.30h-1.6Z" fill="#222"/>
<text x="463.9" y="258.65" textLength="25.1" lengthAdjust="spacingAndGlyphs" font-family='"Liberation Sans", Arial, Helvetica, sans-serif' font-size="7.4" font-weight="bold" fill="#000" stroke="#000" stroke-width="0.2">48 h p.i.</text>
<rect x="442.00" y="269.00" width="18.90" height="4.00" fill="#000"/>
<text x="463.9" y="273.75" textLength="25.0" lengthAdjust="spacingAndGlyphs" font-family='"Liberation Sans", Arial, Helvetica, sans-serif' font-size="7.4" font-weight="bold" fill="#000" stroke="#000" stroke-width="0.2">72 h p.i.</text>
</g>
</svg>
</body></html>
